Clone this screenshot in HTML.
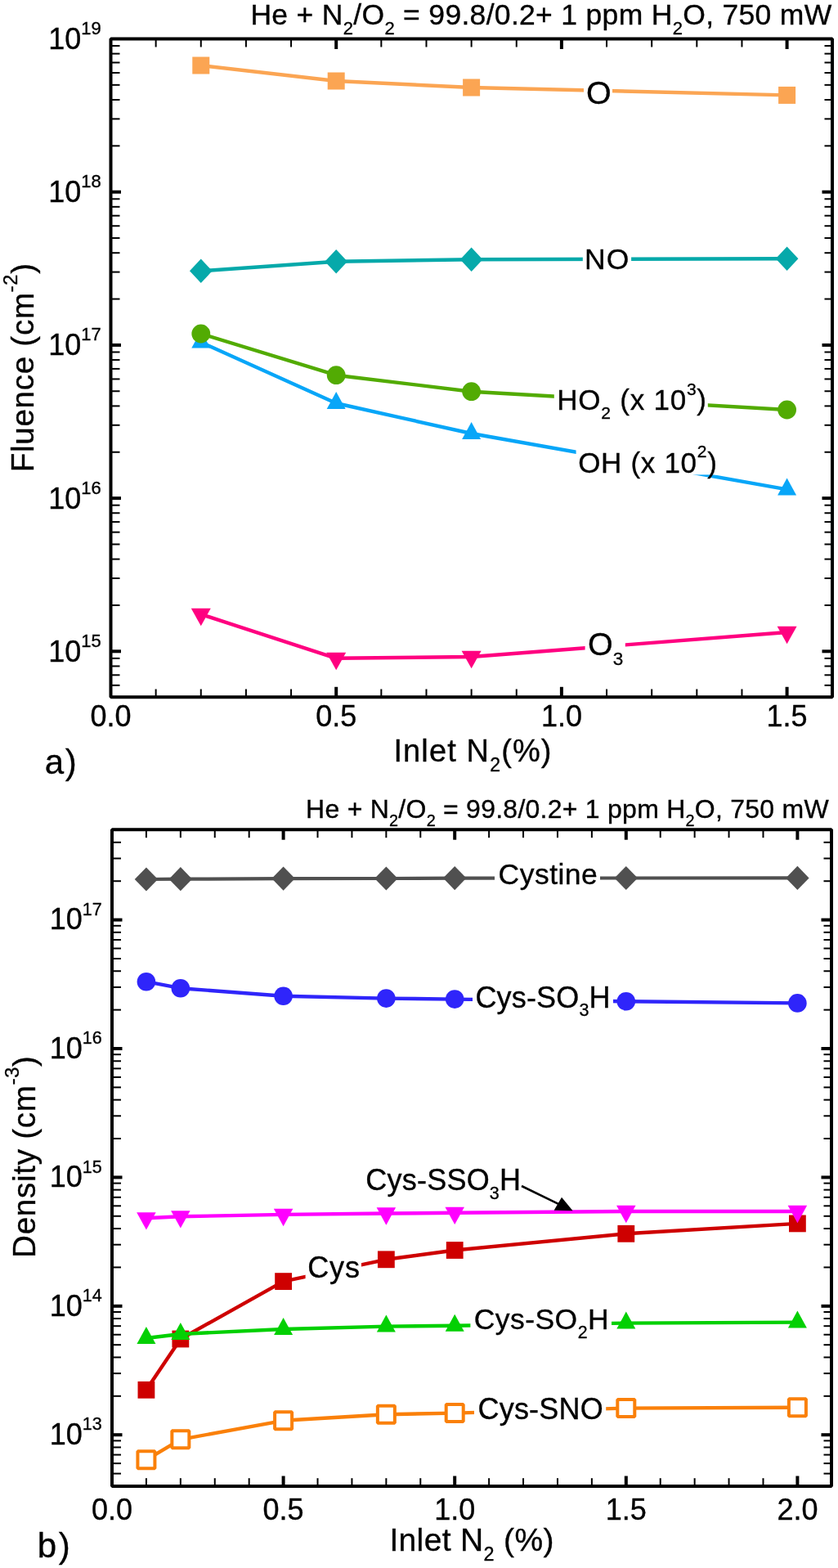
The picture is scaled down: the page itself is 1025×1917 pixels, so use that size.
<!DOCTYPE html>
<html><head><meta charset="utf-8"><title>Fluence and density vs inlet N2</title>
<style>
html,body{margin:0;padding:0;background:#fff;}
body{width:1025px;height:1917px;overflow:hidden;}
svg{display:block;}
text{font-family:"Liberation Sans", Arial, Helvetica, sans-serif;white-space:pre;stroke:#000;stroke-width:0.35px;}
</style></head>
<body>
<svg width="1025" height="1917" viewBox="0 0 1025 1917">
<rect x="0" y="0" width="1025" height="1917" fill="#fff"/>
<polyline points="245.78,80 411.2,99 576.62,107 962.6,116.4" fill="none" stroke="#FBA553" stroke-width="4.4" stroke-linejoin="round"/>
<rect x="235.28" y="69.5" width="21" height="21" fill="#FBA553"/>
<rect x="400.7" y="88.5" width="21" height="21" fill="#FBA553"/>
<rect x="566.12" y="96.5" width="21" height="21" fill="#FBA553"/>
<rect x="952.1" y="105.9" width="21" height="21" fill="#FBA553"/>
<polyline points="245.78,331.3 411.2,319.7 576.62,317.3 962.6,316.2" fill="none" stroke="#06A9AA" stroke-width="4.4" stroke-linejoin="round"/>
<polygon points="245.78,316.5 259.58,331.3 245.78,346.1 231.98,331.3" fill="#06A9AA"/>
<polygon points="411.2,304.9 425,319.7 411.2,334.5 397.4,319.7" fill="#06A9AA"/>
<polygon points="576.62,302.5 590.42,317.3 576.62,332.1 562.82,317.3" fill="#06A9AA"/>
<polygon points="962.6,301.4 976.4,316.2 962.6,331 948.8,316.2" fill="#06A9AA"/>
<polyline points="245.78,418.4 411.2,493 576.62,530 962.6,598.4" fill="none" stroke="#08A6F8" stroke-width="4.4" stroke-linejoin="round"/>
<polygon points="245.78,404.4 257.28,425.4 234.28,425.4" fill="#08A6F8"/>
<polygon points="411.2,479 422.7,500 399.7,500" fill="#08A6F8"/>
<polygon points="576.62,516 588.12,537 565.12,537" fill="#08A6F8"/>
<polygon points="962.6,584.4 974.1,605.4 951.1,605.4" fill="#08A6F8"/>
<polyline points="245.78,408 411.2,458.7 576.62,478.7 962.6,501" fill="none" stroke="#52AB03" stroke-width="4.4" stroke-linejoin="round"/>
<circle cx="245.78" cy="408" r="11.4" fill="#52AB03"/>
<circle cx="411.2" cy="458.7" r="11.4" fill="#52AB03"/>
<circle cx="576.62" cy="478.7" r="11.4" fill="#52AB03"/>
<circle cx="962.6" cy="501" r="11.4" fill="#52AB03"/>
<polyline points="245.78,751 411.2,804.8 576.62,803 962.6,773" fill="none" stroke="#FF0080" stroke-width="4.4" stroke-linejoin="round"/>
<polygon points="245.78,765.33 257.78,743.83 233.78,743.83" fill="#FF0080"/>
<polygon points="411.2,819.13 423.2,797.63 399.2,797.63" fill="#FF0080"/>
<polygon points="576.62,817.33 588.62,795.83 564.62,795.83" fill="#FF0080"/>
<polygon points="962.6,787.33 974.6,765.83 950.6,765.83" fill="#FF0080"/>
<rect x="714" y="94" width="35" height="38" fill="#fff"/>
<text x="717" y="127" text-anchor="start" fill="#000"><tspan font-size="39.5">O</tspan></text>
<rect x="712.8" y="298" width="59.3" height="36" fill="#fff"/>
<text x="714.9" y="328.8" text-anchor="start" fill="#000" letter-spacing="1.3"><tspan font-size="35.5">NO</tspan></text>
<rect x="677.8" y="466" width="188" height="48" fill="#fff"/>
<text x="681.3" y="501" text-anchor="start" fill="#000" letter-spacing="0.76"><tspan font-size="35">HO</tspan><tspan font-size="21" dy="10.5">2</tspan><tspan font-size="35" dy="-10.5"> (x 10</tspan><tspan font-size="21" dy="-18.3">3</tspan><tspan font-size="35" dy="18.3">)</tspan></text>
<rect x="704.6" y="538" width="176" height="42.4" fill="#fff"/>
<text x="707.2" y="578" text-anchor="start" fill="#000" letter-spacing="0.69"><tspan font-size="35">OH (x 10</tspan><tspan font-size="21" dy="-19">2</tspan><tspan font-size="35" dy="19">)</tspan></text>
<rect x="715.6" y="766" width="49.2" height="50" fill="#fff"/>
<text x="719.1" y="800.8" text-anchor="start" fill="#000"><tspan font-size="39.5">O</tspan><tspan font-size="22.5" dy="12">3</tspan></text>
<line x1="190.64" y1="852.3" x2="190.64" y2="842.5" stroke="#000" stroke-width="2" stroke-linecap="butt"/>
<line x1="190.64" y1="47.5" x2="190.64" y2="57.5" stroke="#000" stroke-width="2" stroke-linecap="butt"/>
<line x1="245.78" y1="852.3" x2="245.78" y2="842.5" stroke="#000" stroke-width="2" stroke-linecap="butt"/>
<line x1="245.78" y1="47.5" x2="245.78" y2="57.5" stroke="#000" stroke-width="2" stroke-linecap="butt"/>
<line x1="300.92" y1="852.3" x2="300.92" y2="842.5" stroke="#000" stroke-width="2" stroke-linecap="butt"/>
<line x1="300.92" y1="47.5" x2="300.92" y2="57.5" stroke="#000" stroke-width="2" stroke-linecap="butt"/>
<line x1="356.06" y1="852.3" x2="356.06" y2="842.5" stroke="#000" stroke-width="2" stroke-linecap="butt"/>
<line x1="356.06" y1="47.5" x2="356.06" y2="57.5" stroke="#000" stroke-width="2" stroke-linecap="butt"/>
<line x1="466.34" y1="852.3" x2="466.34" y2="842.5" stroke="#000" stroke-width="2" stroke-linecap="butt"/>
<line x1="466.34" y1="47.5" x2="466.34" y2="57.5" stroke="#000" stroke-width="2" stroke-linecap="butt"/>
<line x1="521.48" y1="852.3" x2="521.48" y2="842.5" stroke="#000" stroke-width="2" stroke-linecap="butt"/>
<line x1="521.48" y1="47.5" x2="521.48" y2="57.5" stroke="#000" stroke-width="2" stroke-linecap="butt"/>
<line x1="576.62" y1="852.3" x2="576.62" y2="842.5" stroke="#000" stroke-width="2" stroke-linecap="butt"/>
<line x1="576.62" y1="47.5" x2="576.62" y2="57.5" stroke="#000" stroke-width="2" stroke-linecap="butt"/>
<line x1="631.76" y1="852.3" x2="631.76" y2="842.5" stroke="#000" stroke-width="2" stroke-linecap="butt"/>
<line x1="631.76" y1="47.5" x2="631.76" y2="57.5" stroke="#000" stroke-width="2" stroke-linecap="butt"/>
<line x1="742.04" y1="852.3" x2="742.04" y2="842.5" stroke="#000" stroke-width="2" stroke-linecap="butt"/>
<line x1="742.04" y1="47.5" x2="742.04" y2="57.5" stroke="#000" stroke-width="2" stroke-linecap="butt"/>
<line x1="797.18" y1="852.3" x2="797.18" y2="842.5" stroke="#000" stroke-width="2" stroke-linecap="butt"/>
<line x1="797.18" y1="47.5" x2="797.18" y2="57.5" stroke="#000" stroke-width="2" stroke-linecap="butt"/>
<line x1="852.32" y1="852.3" x2="852.32" y2="842.5" stroke="#000" stroke-width="2" stroke-linecap="butt"/>
<line x1="852.32" y1="47.5" x2="852.32" y2="57.5" stroke="#000" stroke-width="2" stroke-linecap="butt"/>
<line x1="907.46" y1="852.3" x2="907.46" y2="842.5" stroke="#000" stroke-width="2" stroke-linecap="butt"/>
<line x1="907.46" y1="47.5" x2="907.46" y2="57.5" stroke="#000" stroke-width="2" stroke-linecap="butt"/>
<line x1="1017.74" y1="852.3" x2="1017.74" y2="842.5" stroke="#000" stroke-width="2" stroke-linecap="butt"/>
<line x1="1017.74" y1="47.5" x2="1017.74" y2="57.5" stroke="#000" stroke-width="2" stroke-linecap="butt"/>
<line x1="411.2" y1="852.3" x2="411.2" y2="839.8" stroke="#000" stroke-width="4" stroke-linecap="butt"/>
<line x1="411.2" y1="47.5" x2="411.2" y2="60" stroke="#000" stroke-width="4" stroke-linecap="butt"/>
<line x1="686.9" y1="852.3" x2="686.9" y2="839.8" stroke="#000" stroke-width="4" stroke-linecap="butt"/>
<line x1="686.9" y1="47.5" x2="686.9" y2="60" stroke="#000" stroke-width="4" stroke-linecap="butt"/>
<line x1="962.6" y1="852.3" x2="962.6" y2="839.8" stroke="#000" stroke-width="4" stroke-linecap="butt"/>
<line x1="962.6" y1="47.5" x2="962.6" y2="60" stroke="#000" stroke-width="4" stroke-linecap="butt"/>
<line x1="135.5" y1="837.83" x2="146.5" y2="837.83" stroke="#000" stroke-width="2" stroke-linecap="butt"/>
<line x1="1018" y1="837.83" x2="1008.5" y2="837.83" stroke="#000" stroke-width="2" stroke-linecap="butt"/>
<line x1="135.5" y1="825.3" x2="146.5" y2="825.3" stroke="#000" stroke-width="2" stroke-linecap="butt"/>
<line x1="1018" y1="825.3" x2="1008.5" y2="825.3" stroke="#000" stroke-width="2" stroke-linecap="butt"/>
<line x1="135.5" y1="814.44" x2="146.5" y2="814.44" stroke="#000" stroke-width="2" stroke-linecap="butt"/>
<line x1="1018" y1="814.44" x2="1008.5" y2="814.44" stroke="#000" stroke-width="2" stroke-linecap="butt"/>
<line x1="135.5" y1="804.87" x2="146.5" y2="804.87" stroke="#000" stroke-width="2" stroke-linecap="butt"/>
<line x1="1018" y1="804.87" x2="1008.5" y2="804.87" stroke="#000" stroke-width="2" stroke-linecap="butt"/>
<line x1="135.5" y1="739.95" x2="146.5" y2="739.95" stroke="#000" stroke-width="2" stroke-linecap="butt"/>
<line x1="1018" y1="739.95" x2="1008.5" y2="739.95" stroke="#000" stroke-width="2" stroke-linecap="butt"/>
<line x1="135.5" y1="706.98" x2="146.5" y2="706.98" stroke="#000" stroke-width="2" stroke-linecap="butt"/>
<line x1="1018" y1="706.98" x2="1008.5" y2="706.98" stroke="#000" stroke-width="2" stroke-linecap="butt"/>
<line x1="135.5" y1="683.59" x2="146.5" y2="683.59" stroke="#000" stroke-width="2" stroke-linecap="butt"/>
<line x1="1018" y1="683.59" x2="1008.5" y2="683.59" stroke="#000" stroke-width="2" stroke-linecap="butt"/>
<line x1="135.5" y1="665.45" x2="146.5" y2="665.45" stroke="#000" stroke-width="2" stroke-linecap="butt"/>
<line x1="1018" y1="665.45" x2="1008.5" y2="665.45" stroke="#000" stroke-width="2" stroke-linecap="butt"/>
<line x1="135.5" y1="650.63" x2="146.5" y2="650.63" stroke="#000" stroke-width="2" stroke-linecap="butt"/>
<line x1="1018" y1="650.63" x2="1008.5" y2="650.63" stroke="#000" stroke-width="2" stroke-linecap="butt"/>
<line x1="135.5" y1="638.1" x2="146.5" y2="638.1" stroke="#000" stroke-width="2" stroke-linecap="butt"/>
<line x1="1018" y1="638.1" x2="1008.5" y2="638.1" stroke="#000" stroke-width="2" stroke-linecap="butt"/>
<line x1="135.5" y1="627.24" x2="146.5" y2="627.24" stroke="#000" stroke-width="2" stroke-linecap="butt"/>
<line x1="1018" y1="627.24" x2="1008.5" y2="627.24" stroke="#000" stroke-width="2" stroke-linecap="butt"/>
<line x1="135.5" y1="617.67" x2="146.5" y2="617.67" stroke="#000" stroke-width="2" stroke-linecap="butt"/>
<line x1="1018" y1="617.67" x2="1008.5" y2="617.67" stroke="#000" stroke-width="2" stroke-linecap="butt"/>
<line x1="135.5" y1="552.75" x2="146.5" y2="552.75" stroke="#000" stroke-width="2" stroke-linecap="butt"/>
<line x1="1018" y1="552.75" x2="1008.5" y2="552.75" stroke="#000" stroke-width="2" stroke-linecap="butt"/>
<line x1="135.5" y1="519.78" x2="146.5" y2="519.78" stroke="#000" stroke-width="2" stroke-linecap="butt"/>
<line x1="1018" y1="519.78" x2="1008.5" y2="519.78" stroke="#000" stroke-width="2" stroke-linecap="butt"/>
<line x1="135.5" y1="496.39" x2="146.5" y2="496.39" stroke="#000" stroke-width="2" stroke-linecap="butt"/>
<line x1="1018" y1="496.39" x2="1008.5" y2="496.39" stroke="#000" stroke-width="2" stroke-linecap="butt"/>
<line x1="135.5" y1="478.25" x2="146.5" y2="478.25" stroke="#000" stroke-width="2" stroke-linecap="butt"/>
<line x1="1018" y1="478.25" x2="1008.5" y2="478.25" stroke="#000" stroke-width="2" stroke-linecap="butt"/>
<line x1="135.5" y1="463.43" x2="146.5" y2="463.43" stroke="#000" stroke-width="2" stroke-linecap="butt"/>
<line x1="1018" y1="463.43" x2="1008.5" y2="463.43" stroke="#000" stroke-width="2" stroke-linecap="butt"/>
<line x1="135.5" y1="450.9" x2="146.5" y2="450.9" stroke="#000" stroke-width="2" stroke-linecap="butt"/>
<line x1="1018" y1="450.9" x2="1008.5" y2="450.9" stroke="#000" stroke-width="2" stroke-linecap="butt"/>
<line x1="135.5" y1="440.04" x2="146.5" y2="440.04" stroke="#000" stroke-width="2" stroke-linecap="butt"/>
<line x1="1018" y1="440.04" x2="1008.5" y2="440.04" stroke="#000" stroke-width="2" stroke-linecap="butt"/>
<line x1="135.5" y1="430.47" x2="146.5" y2="430.47" stroke="#000" stroke-width="2" stroke-linecap="butt"/>
<line x1="1018" y1="430.47" x2="1008.5" y2="430.47" stroke="#000" stroke-width="2" stroke-linecap="butt"/>
<line x1="135.5" y1="365.55" x2="146.5" y2="365.55" stroke="#000" stroke-width="2" stroke-linecap="butt"/>
<line x1="1018" y1="365.55" x2="1008.5" y2="365.55" stroke="#000" stroke-width="2" stroke-linecap="butt"/>
<line x1="135.5" y1="332.58" x2="146.5" y2="332.58" stroke="#000" stroke-width="2" stroke-linecap="butt"/>
<line x1="1018" y1="332.58" x2="1008.5" y2="332.58" stroke="#000" stroke-width="2" stroke-linecap="butt"/>
<line x1="135.5" y1="309.19" x2="146.5" y2="309.19" stroke="#000" stroke-width="2" stroke-linecap="butt"/>
<line x1="1018" y1="309.19" x2="1008.5" y2="309.19" stroke="#000" stroke-width="2" stroke-linecap="butt"/>
<line x1="135.5" y1="291.05" x2="146.5" y2="291.05" stroke="#000" stroke-width="2" stroke-linecap="butt"/>
<line x1="1018" y1="291.05" x2="1008.5" y2="291.05" stroke="#000" stroke-width="2" stroke-linecap="butt"/>
<line x1="135.5" y1="276.23" x2="146.5" y2="276.23" stroke="#000" stroke-width="2" stroke-linecap="butt"/>
<line x1="1018" y1="276.23" x2="1008.5" y2="276.23" stroke="#000" stroke-width="2" stroke-linecap="butt"/>
<line x1="135.5" y1="263.7" x2="146.5" y2="263.7" stroke="#000" stroke-width="2" stroke-linecap="butt"/>
<line x1="1018" y1="263.7" x2="1008.5" y2="263.7" stroke="#000" stroke-width="2" stroke-linecap="butt"/>
<line x1="135.5" y1="252.84" x2="146.5" y2="252.84" stroke="#000" stroke-width="2" stroke-linecap="butt"/>
<line x1="1018" y1="252.84" x2="1008.5" y2="252.84" stroke="#000" stroke-width="2" stroke-linecap="butt"/>
<line x1="135.5" y1="243.27" x2="146.5" y2="243.27" stroke="#000" stroke-width="2" stroke-linecap="butt"/>
<line x1="1018" y1="243.27" x2="1008.5" y2="243.27" stroke="#000" stroke-width="2" stroke-linecap="butt"/>
<line x1="135.5" y1="178.35" x2="146.5" y2="178.35" stroke="#000" stroke-width="2" stroke-linecap="butt"/>
<line x1="1018" y1="178.35" x2="1008.5" y2="178.35" stroke="#000" stroke-width="2" stroke-linecap="butt"/>
<line x1="135.5" y1="145.38" x2="146.5" y2="145.38" stroke="#000" stroke-width="2" stroke-linecap="butt"/>
<line x1="1018" y1="145.38" x2="1008.5" y2="145.38" stroke="#000" stroke-width="2" stroke-linecap="butt"/>
<line x1="135.5" y1="121.99" x2="146.5" y2="121.99" stroke="#000" stroke-width="2" stroke-linecap="butt"/>
<line x1="1018" y1="121.99" x2="1008.5" y2="121.99" stroke="#000" stroke-width="2" stroke-linecap="butt"/>
<line x1="135.5" y1="103.85" x2="146.5" y2="103.85" stroke="#000" stroke-width="2" stroke-linecap="butt"/>
<line x1="1018" y1="103.85" x2="1008.5" y2="103.85" stroke="#000" stroke-width="2" stroke-linecap="butt"/>
<line x1="135.5" y1="89.03" x2="146.5" y2="89.03" stroke="#000" stroke-width="2" stroke-linecap="butt"/>
<line x1="1018" y1="89.03" x2="1008.5" y2="89.03" stroke="#000" stroke-width="2" stroke-linecap="butt"/>
<line x1="135.5" y1="76.5" x2="146.5" y2="76.5" stroke="#000" stroke-width="2" stroke-linecap="butt"/>
<line x1="1018" y1="76.5" x2="1008.5" y2="76.5" stroke="#000" stroke-width="2" stroke-linecap="butt"/>
<line x1="135.5" y1="65.64" x2="146.5" y2="65.64" stroke="#000" stroke-width="2" stroke-linecap="butt"/>
<line x1="1018" y1="65.64" x2="1008.5" y2="65.64" stroke="#000" stroke-width="2" stroke-linecap="butt"/>
<line x1="135.5" y1="56.07" x2="146.5" y2="56.07" stroke="#000" stroke-width="2" stroke-linecap="butt"/>
<line x1="1018" y1="56.07" x2="1008.5" y2="56.07" stroke="#000" stroke-width="2" stroke-linecap="butt"/>
<line x1="135.5" y1="796.3" x2="148" y2="796.3" stroke="#000" stroke-width="4" stroke-linecap="butt"/>
<line x1="1018" y1="796.3" x2="1005.5" y2="796.3" stroke="#000" stroke-width="4" stroke-linecap="butt"/>
<line x1="135.5" y1="609.1" x2="148" y2="609.1" stroke="#000" stroke-width="4" stroke-linecap="butt"/>
<line x1="1018" y1="609.1" x2="1005.5" y2="609.1" stroke="#000" stroke-width="4" stroke-linecap="butt"/>
<line x1="135.5" y1="421.9" x2="148" y2="421.9" stroke="#000" stroke-width="4" stroke-linecap="butt"/>
<line x1="1018" y1="421.9" x2="1005.5" y2="421.9" stroke="#000" stroke-width="4" stroke-linecap="butt"/>
<line x1="135.5" y1="234.7" x2="148" y2="234.7" stroke="#000" stroke-width="4" stroke-linecap="butt"/>
<line x1="1018" y1="234.7" x2="1005.5" y2="234.7" stroke="#000" stroke-width="4" stroke-linecap="butt"/>
<rect x="135.5" y="47.5" width="882.5" height="804.8" fill="none" stroke="#000" stroke-width="4" stroke-linejoin="bevel"/>
<text x="135.5" y="887.5" text-anchor="middle" fill="#000"><tspan font-size="36">0.0</tspan></text>
<text x="411.2" y="887.5" text-anchor="middle" fill="#000"><tspan font-size="36">0.5</tspan></text>
<text x="686.9" y="887.5" text-anchor="middle" fill="#000"><tspan font-size="36">1.0</tspan></text>
<text x="962.6" y="887.5" text-anchor="middle" fill="#000"><tspan font-size="36">1.5</tspan></text>
<text x="123.8" y="808.7" text-anchor="end" fill="#000"><tspan font-size="36">10</tspan><tspan font-size="22" dy="-18">15</tspan></text>
<text x="123.8" y="621.5" text-anchor="end" fill="#000"><tspan font-size="36">10</tspan><tspan font-size="22" dy="-18">16</tspan></text>
<text x="123.8" y="434.3" text-anchor="end" fill="#000"><tspan font-size="36">10</tspan><tspan font-size="22" dy="-18">17</tspan></text>
<text x="123.8" y="247.1" text-anchor="end" fill="#000"><tspan font-size="36">10</tspan><tspan font-size="22" dy="-18">18</tspan></text>
<text x="123.8" y="59.9" text-anchor="end" fill="#000"><tspan font-size="36">10</tspan><tspan font-size="22" dy="-18">19</tspan></text>
<text x="306.4" y="30.2" text-anchor="start" fill="#000" letter-spacing="0.31"><tspan font-size="35.5">He + N</tspan><tspan font-size="22" dy="11.3">2</tspan><tspan font-size="35.5" dy="-11.3">/O</tspan><tspan font-size="22" dy="11.3">2</tspan><tspan font-size="35.5" dy="-11.3"> = 99.8/0.2+ 1 ppm H</tspan><tspan font-size="22" dy="11.3">2</tspan><tspan font-size="35.5" dy="-11.3">O, 750 mW</tspan></text>
<text x="0" y="0" transform="translate(41,449.3) rotate(-90)" text-anchor="middle" fill="#000" letter-spacing="0.75"><tspan font-size="38.5">Fluence (cm</tspan><tspan font-size="23.5" dy="-20">-2</tspan><tspan font-size="38.5" dy="20">)</tspan></text>
<text x="481.4" y="931" text-anchor="start" fill="#000" letter-spacing="1.14"><tspan font-size="38">Inlet N</tspan><tspan font-size="23" dy="12.3">2</tspan><tspan font-size="38" dy="-12.3">(%)</tspan></text>
<text x="54.7" y="946" text-anchor="start" fill="#000" letter-spacing="1.6"><tspan font-size="42">a)</tspan></text>
<polyline points="178.92,1075 220.84,1074.7 346.6,1074.1 472.36,1074 556.2,1073.6 765.8,1073.5 975.4,1073.4" fill="none" stroke="#505050" stroke-width="4.2" stroke-linejoin="round"/>
<polygon points="178.92,1060.4 193.12,1075 178.92,1089.6 164.72,1075" fill="#505050"/>
<polygon points="220.84,1060.1 235.04,1074.7 220.84,1089.3 206.64,1074.7" fill="#505050"/>
<polygon points="346.6,1059.5 360.8,1074.1 346.6,1088.7 332.4,1074.1" fill="#505050"/>
<polygon points="472.36,1059.4 486.56,1074 472.36,1088.6 458.16,1074" fill="#505050"/>
<polygon points="556.2,1059 570.4,1073.6 556.2,1088.2 542,1073.6" fill="#505050"/>
<polygon points="765.8,1058.9 780,1073.5 765.8,1088.1 751.6,1073.5" fill="#505050"/>
<polygon points="975.4,1058.8 989.6,1073.4 975.4,1088 961.2,1073.4" fill="#505050"/>
<polyline points="178.92,1200.2 220.84,1208.2 346.6,1217.8 472.36,1220.6 556.2,1221.6 765.8,1224.2 975.4,1226.4" fill="none" stroke="#2F25FA" stroke-width="4.4" stroke-linejoin="round"/>
<circle cx="178.92" cy="1200.2" r="11.3" fill="#2F25FA"/>
<circle cx="220.84" cy="1208.2" r="11.3" fill="#2F25FA"/>
<circle cx="346.6" cy="1217.8" r="11.3" fill="#2F25FA"/>
<circle cx="472.36" cy="1220.6" r="11.3" fill="#2F25FA"/>
<circle cx="556.2" cy="1221.6" r="11.3" fill="#2F25FA"/>
<circle cx="765.8" cy="1224.2" r="11.3" fill="#2F25FA"/>
<circle cx="975.4" cy="1226.4" r="11.3" fill="#2F25FA"/>
<polyline points="178.92,1699.3 220.84,1637 346.6,1566.6 472.36,1539.8 556.2,1528.5 765.8,1508.3 975.4,1495.9" fill="none" stroke="#CE0000" stroke-width="4.4" stroke-linejoin="round"/>
<rect x="168.52" y="1688.9" width="20.8" height="20.8" fill="#CE0000"/>
<rect x="210.44" y="1626.6" width="20.8" height="20.8" fill="#CE0000"/>
<rect x="336.2" y="1556.2" width="20.8" height="20.8" fill="#CE0000"/>
<rect x="461.96" y="1529.4" width="20.8" height="20.8" fill="#CE0000"/>
<rect x="545.8" y="1518.1" width="20.8" height="20.8" fill="#CE0000"/>
<rect x="755.4" y="1497.9" width="20.8" height="20.8" fill="#CE0000"/>
<rect x="965" y="1485.5" width="20.8" height="20.8" fill="#CE0000"/>
<polyline points="178.92,1636 220.84,1631 346.6,1625 472.36,1621.6 556.2,1620.8 765.8,1617.6 975.4,1616.6" fill="none" stroke="#03D003" stroke-width="4.4" stroke-linejoin="round"/>
<polygon points="178.92,1622 190.42,1643 167.42,1643" fill="#03D003"/>
<polygon points="220.84,1617 232.34,1638 209.34,1638" fill="#03D003"/>
<polygon points="346.6,1611 358.1,1632 335.1,1632" fill="#03D003"/>
<polygon points="472.36,1607.6 483.86,1628.6 460.86,1628.6" fill="#03D003"/>
<polygon points="556.2,1606.8 567.7,1627.8 544.7,1627.8" fill="#03D003"/>
<polygon points="765.8,1603.6 777.3,1624.6 754.3,1624.6" fill="#03D003"/>
<polygon points="975.4,1602.6 986.9,1623.6 963.9,1623.6" fill="#03D003"/>
<polyline points="178.92,1489.3 220.84,1487.3 346.6,1484.9 472.36,1483.5 556.2,1482.8 765.8,1481 975.4,1481" fill="none" stroke="#FF00FF" stroke-width="4.4" stroke-linejoin="round"/>
<polygon points="178.92,1503.57 190.67,1482.17 167.17,1482.17" fill="#FF00FF"/>
<polygon points="220.84,1501.57 232.59,1480.17 209.09,1480.17" fill="#FF00FF"/>
<polygon points="346.6,1499.17 358.35,1477.77 334.85,1477.77" fill="#FF00FF"/>
<polygon points="472.36,1497.77 484.11,1476.37 460.61,1476.37" fill="#FF00FF"/>
<polygon points="556.2,1497.07 567.95,1475.67 544.45,1475.67" fill="#FF00FF"/>
<polygon points="765.8,1495.27 777.55,1473.87 754.05,1473.87" fill="#FF00FF"/>
<polygon points="975.4,1495.27 987.15,1473.87 963.65,1473.87" fill="#FF00FF"/>
<polyline points="178.92,1784.8 220.84,1759.8 346.6,1736.8 472.36,1729.2 556.2,1727.6 765.8,1721.6 975.4,1720.8" fill="none" stroke="#FA800A" stroke-width="4.4" stroke-linejoin="round"/>
<rect x="168.42" y="1774.3" width="21" height="21" fill="#fff" stroke="#FA800A" stroke-width="4" stroke-linejoin="bevel"/>
<rect x="210.34" y="1749.3" width="21" height="21" fill="#fff" stroke="#FA800A" stroke-width="4" stroke-linejoin="bevel"/>
<rect x="336.1" y="1726.3" width="21" height="21" fill="#fff" stroke="#FA800A" stroke-width="4" stroke-linejoin="bevel"/>
<rect x="461.86" y="1718.7" width="21" height="21" fill="#fff" stroke="#FA800A" stroke-width="4" stroke-linejoin="bevel"/>
<rect x="545.7" y="1717.1" width="21" height="21" fill="#fff" stroke="#FA800A" stroke-width="4" stroke-linejoin="bevel"/>
<rect x="755.3" y="1711.1" width="21" height="21" fill="#fff" stroke="#FA800A" stroke-width="4" stroke-linejoin="bevel"/>
<rect x="964.9" y="1710.3" width="21" height="21" fill="#fff" stroke="#FA800A" stroke-width="4" stroke-linejoin="bevel"/>
<line x1="638" y1="1450" x2="684" y2="1472.3" stroke="#000" stroke-width="2.6" stroke-linecap="butt"/>
<polygon points="700.6,1480.2 687,1463.8 677.6,1479.8" fill="#000"/>
<rect x="605" y="1050" width="129" height="42" fill="#fff"/>
<text x="609.6" y="1081" text-anchor="start" fill="#000" letter-spacing="0.47"><tspan font-size="35.5">Cystine</tspan></text>
<rect x="578" y="1198" width="172" height="48" fill="#fff"/>
<text x="581.4" y="1231.6" text-anchor="start" fill="#000" letter-spacing="0.17"><tspan font-size="36">Cys-SO</tspan><tspan font-size="21.5" dy="10.5">3</tspan><tspan font-size="36" dy="-10.5">H</tspan></text>
<text x="447.3" y="1455.3" text-anchor="start" fill="#000" letter-spacing="0.22"><tspan font-size="36">Cys-SSO</tspan><tspan font-size="21.5" dy="10.5">3</tspan><tspan font-size="36" dy="-10.5">H</tspan></text>
<rect x="373.6" y="1530" width="68.4" height="45" fill="#fff"/>
<text x="376.2" y="1562" text-anchor="start" fill="#000" letter-spacing="0.9"><tspan font-size="36">Cys</tspan></text>
<rect x="575.4" y="1594" width="172.6" height="48" fill="#fff"/>
<text x="579.7" y="1625.4" text-anchor="start" fill="#000" letter-spacing="0.46"><tspan font-size="35.5">Cys-SO</tspan><tspan font-size="21.3" dy="10.5">2</tspan><tspan font-size="35.5" dy="-10.5">H</tspan></text>
<rect x="580" y="1703" width="161.2" height="44" fill="#fff"/>
<text x="584.5" y="1734.7" text-anchor="start" fill="#000" letter-spacing="0.2"><tspan font-size="36">Cys-SNO</tspan></text>
<line x1="178.92" y1="1817" x2="178.92" y2="1807.2" stroke="#000" stroke-width="2" stroke-linecap="butt"/>
<line x1="178.92" y1="1014.2" x2="178.92" y2="1024.2" stroke="#000" stroke-width="2" stroke-linecap="butt"/>
<line x1="220.84" y1="1817" x2="220.84" y2="1807.2" stroke="#000" stroke-width="2" stroke-linecap="butt"/>
<line x1="220.84" y1="1014.2" x2="220.84" y2="1024.2" stroke="#000" stroke-width="2" stroke-linecap="butt"/>
<line x1="262.76" y1="1817" x2="262.76" y2="1807.2" stroke="#000" stroke-width="2" stroke-linecap="butt"/>
<line x1="262.76" y1="1014.2" x2="262.76" y2="1024.2" stroke="#000" stroke-width="2" stroke-linecap="butt"/>
<line x1="304.68" y1="1817" x2="304.68" y2="1807.2" stroke="#000" stroke-width="2" stroke-linecap="butt"/>
<line x1="304.68" y1="1014.2" x2="304.68" y2="1024.2" stroke="#000" stroke-width="2" stroke-linecap="butt"/>
<line x1="388.52" y1="1817" x2="388.52" y2="1807.2" stroke="#000" stroke-width="2" stroke-linecap="butt"/>
<line x1="388.52" y1="1014.2" x2="388.52" y2="1024.2" stroke="#000" stroke-width="2" stroke-linecap="butt"/>
<line x1="430.44" y1="1817" x2="430.44" y2="1807.2" stroke="#000" stroke-width="2" stroke-linecap="butt"/>
<line x1="430.44" y1="1014.2" x2="430.44" y2="1024.2" stroke="#000" stroke-width="2" stroke-linecap="butt"/>
<line x1="472.36" y1="1817" x2="472.36" y2="1807.2" stroke="#000" stroke-width="2" stroke-linecap="butt"/>
<line x1="472.36" y1="1014.2" x2="472.36" y2="1024.2" stroke="#000" stroke-width="2" stroke-linecap="butt"/>
<line x1="514.28" y1="1817" x2="514.28" y2="1807.2" stroke="#000" stroke-width="2" stroke-linecap="butt"/>
<line x1="514.28" y1="1014.2" x2="514.28" y2="1024.2" stroke="#000" stroke-width="2" stroke-linecap="butt"/>
<line x1="598.12" y1="1817" x2="598.12" y2="1807.2" stroke="#000" stroke-width="2" stroke-linecap="butt"/>
<line x1="598.12" y1="1014.2" x2="598.12" y2="1024.2" stroke="#000" stroke-width="2" stroke-linecap="butt"/>
<line x1="640.04" y1="1817" x2="640.04" y2="1807.2" stroke="#000" stroke-width="2" stroke-linecap="butt"/>
<line x1="640.04" y1="1014.2" x2="640.04" y2="1024.2" stroke="#000" stroke-width="2" stroke-linecap="butt"/>
<line x1="681.96" y1="1817" x2="681.96" y2="1807.2" stroke="#000" stroke-width="2" stroke-linecap="butt"/>
<line x1="681.96" y1="1014.2" x2="681.96" y2="1024.2" stroke="#000" stroke-width="2" stroke-linecap="butt"/>
<line x1="723.88" y1="1817" x2="723.88" y2="1807.2" stroke="#000" stroke-width="2" stroke-linecap="butt"/>
<line x1="723.88" y1="1014.2" x2="723.88" y2="1024.2" stroke="#000" stroke-width="2" stroke-linecap="butt"/>
<line x1="807.72" y1="1817" x2="807.72" y2="1807.2" stroke="#000" stroke-width="2" stroke-linecap="butt"/>
<line x1="807.72" y1="1014.2" x2="807.72" y2="1024.2" stroke="#000" stroke-width="2" stroke-linecap="butt"/>
<line x1="849.64" y1="1817" x2="849.64" y2="1807.2" stroke="#000" stroke-width="2" stroke-linecap="butt"/>
<line x1="849.64" y1="1014.2" x2="849.64" y2="1024.2" stroke="#000" stroke-width="2" stroke-linecap="butt"/>
<line x1="891.56" y1="1817" x2="891.56" y2="1807.2" stroke="#000" stroke-width="2" stroke-linecap="butt"/>
<line x1="891.56" y1="1014.2" x2="891.56" y2="1024.2" stroke="#000" stroke-width="2" stroke-linecap="butt"/>
<line x1="933.48" y1="1817" x2="933.48" y2="1807.2" stroke="#000" stroke-width="2" stroke-linecap="butt"/>
<line x1="933.48" y1="1014.2" x2="933.48" y2="1024.2" stroke="#000" stroke-width="2" stroke-linecap="butt"/>
<line x1="346.6" y1="1817" x2="346.6" y2="1804.5" stroke="#000" stroke-width="4" stroke-linecap="butt"/>
<line x1="346.6" y1="1014.2" x2="346.6" y2="1026.7" stroke="#000" stroke-width="4" stroke-linecap="butt"/>
<line x1="556.2" y1="1817" x2="556.2" y2="1804.5" stroke="#000" stroke-width="4" stroke-linecap="butt"/>
<line x1="556.2" y1="1014.2" x2="556.2" y2="1026.7" stroke="#000" stroke-width="4" stroke-linecap="butt"/>
<line x1="765.8" y1="1817" x2="765.8" y2="1804.5" stroke="#000" stroke-width="4" stroke-linecap="butt"/>
<line x1="765.8" y1="1014.2" x2="765.8" y2="1026.7" stroke="#000" stroke-width="4" stroke-linecap="butt"/>
<line x1="975.4" y1="1817" x2="975.4" y2="1804.5" stroke="#000" stroke-width="4" stroke-linecap="butt"/>
<line x1="975.4" y1="1014.2" x2="975.4" y2="1026.7" stroke="#000" stroke-width="4" stroke-linecap="butt"/>
<line x1="137" y1="1801.58" x2="148" y2="1801.58" stroke="#000" stroke-width="2" stroke-linecap="butt"/>
<line x1="1017" y1="1801.58" x2="1007.5" y2="1801.58" stroke="#000" stroke-width="2" stroke-linecap="butt"/>
<line x1="137" y1="1789.12" x2="148" y2="1789.12" stroke="#000" stroke-width="2" stroke-linecap="butt"/>
<line x1="1017" y1="1789.12" x2="1007.5" y2="1789.12" stroke="#000" stroke-width="2" stroke-linecap="butt"/>
<line x1="137" y1="1778.58" x2="148" y2="1778.58" stroke="#000" stroke-width="2" stroke-linecap="butt"/>
<line x1="1017" y1="1778.58" x2="1007.5" y2="1778.58" stroke="#000" stroke-width="2" stroke-linecap="butt"/>
<line x1="137" y1="1769.45" x2="148" y2="1769.45" stroke="#000" stroke-width="2" stroke-linecap="butt"/>
<line x1="1017" y1="1769.45" x2="1007.5" y2="1769.45" stroke="#000" stroke-width="2" stroke-linecap="butt"/>
<line x1="137" y1="1761.4" x2="148" y2="1761.4" stroke="#000" stroke-width="2" stroke-linecap="butt"/>
<line x1="1017" y1="1761.4" x2="1007.5" y2="1761.4" stroke="#000" stroke-width="2" stroke-linecap="butt"/>
<line x1="137" y1="1706.82" x2="148" y2="1706.82" stroke="#000" stroke-width="2" stroke-linecap="butt"/>
<line x1="1017" y1="1706.82" x2="1007.5" y2="1706.82" stroke="#000" stroke-width="2" stroke-linecap="butt"/>
<line x1="137" y1="1679.1" x2="148" y2="1679.1" stroke="#000" stroke-width="2" stroke-linecap="butt"/>
<line x1="1017" y1="1679.1" x2="1007.5" y2="1679.1" stroke="#000" stroke-width="2" stroke-linecap="butt"/>
<line x1="137" y1="1659.44" x2="148" y2="1659.44" stroke="#000" stroke-width="2" stroke-linecap="butt"/>
<line x1="1017" y1="1659.44" x2="1007.5" y2="1659.44" stroke="#000" stroke-width="2" stroke-linecap="butt"/>
<line x1="137" y1="1644.18" x2="148" y2="1644.18" stroke="#000" stroke-width="2" stroke-linecap="butt"/>
<line x1="1017" y1="1644.18" x2="1007.5" y2="1644.18" stroke="#000" stroke-width="2" stroke-linecap="butt"/>
<line x1="137" y1="1631.72" x2="148" y2="1631.72" stroke="#000" stroke-width="2" stroke-linecap="butt"/>
<line x1="1017" y1="1631.72" x2="1007.5" y2="1631.72" stroke="#000" stroke-width="2" stroke-linecap="butt"/>
<line x1="137" y1="1621.18" x2="148" y2="1621.18" stroke="#000" stroke-width="2" stroke-linecap="butt"/>
<line x1="1017" y1="1621.18" x2="1007.5" y2="1621.18" stroke="#000" stroke-width="2" stroke-linecap="butt"/>
<line x1="137" y1="1612.05" x2="148" y2="1612.05" stroke="#000" stroke-width="2" stroke-linecap="butt"/>
<line x1="1017" y1="1612.05" x2="1007.5" y2="1612.05" stroke="#000" stroke-width="2" stroke-linecap="butt"/>
<line x1="137" y1="1604" x2="148" y2="1604" stroke="#000" stroke-width="2" stroke-linecap="butt"/>
<line x1="1017" y1="1604" x2="1007.5" y2="1604" stroke="#000" stroke-width="2" stroke-linecap="butt"/>
<line x1="137" y1="1549.42" x2="148" y2="1549.42" stroke="#000" stroke-width="2" stroke-linecap="butt"/>
<line x1="1017" y1="1549.42" x2="1007.5" y2="1549.42" stroke="#000" stroke-width="2" stroke-linecap="butt"/>
<line x1="137" y1="1521.7" x2="148" y2="1521.7" stroke="#000" stroke-width="2" stroke-linecap="butt"/>
<line x1="1017" y1="1521.7" x2="1007.5" y2="1521.7" stroke="#000" stroke-width="2" stroke-linecap="butt"/>
<line x1="137" y1="1502.04" x2="148" y2="1502.04" stroke="#000" stroke-width="2" stroke-linecap="butt"/>
<line x1="1017" y1="1502.04" x2="1007.5" y2="1502.04" stroke="#000" stroke-width="2" stroke-linecap="butt"/>
<line x1="137" y1="1486.78" x2="148" y2="1486.78" stroke="#000" stroke-width="2" stroke-linecap="butt"/>
<line x1="1017" y1="1486.78" x2="1007.5" y2="1486.78" stroke="#000" stroke-width="2" stroke-linecap="butt"/>
<line x1="137" y1="1474.32" x2="148" y2="1474.32" stroke="#000" stroke-width="2" stroke-linecap="butt"/>
<line x1="1017" y1="1474.32" x2="1007.5" y2="1474.32" stroke="#000" stroke-width="2" stroke-linecap="butt"/>
<line x1="137" y1="1463.78" x2="148" y2="1463.78" stroke="#000" stroke-width="2" stroke-linecap="butt"/>
<line x1="1017" y1="1463.78" x2="1007.5" y2="1463.78" stroke="#000" stroke-width="2" stroke-linecap="butt"/>
<line x1="137" y1="1454.65" x2="148" y2="1454.65" stroke="#000" stroke-width="2" stroke-linecap="butt"/>
<line x1="1017" y1="1454.65" x2="1007.5" y2="1454.65" stroke="#000" stroke-width="2" stroke-linecap="butt"/>
<line x1="137" y1="1446.6" x2="148" y2="1446.6" stroke="#000" stroke-width="2" stroke-linecap="butt"/>
<line x1="1017" y1="1446.6" x2="1007.5" y2="1446.6" stroke="#000" stroke-width="2" stroke-linecap="butt"/>
<line x1="137" y1="1392.02" x2="148" y2="1392.02" stroke="#000" stroke-width="2" stroke-linecap="butt"/>
<line x1="1017" y1="1392.02" x2="1007.5" y2="1392.02" stroke="#000" stroke-width="2" stroke-linecap="butt"/>
<line x1="137" y1="1364.3" x2="148" y2="1364.3" stroke="#000" stroke-width="2" stroke-linecap="butt"/>
<line x1="1017" y1="1364.3" x2="1007.5" y2="1364.3" stroke="#000" stroke-width="2" stroke-linecap="butt"/>
<line x1="137" y1="1344.64" x2="148" y2="1344.64" stroke="#000" stroke-width="2" stroke-linecap="butt"/>
<line x1="1017" y1="1344.64" x2="1007.5" y2="1344.64" stroke="#000" stroke-width="2" stroke-linecap="butt"/>
<line x1="137" y1="1329.38" x2="148" y2="1329.38" stroke="#000" stroke-width="2" stroke-linecap="butt"/>
<line x1="1017" y1="1329.38" x2="1007.5" y2="1329.38" stroke="#000" stroke-width="2" stroke-linecap="butt"/>
<line x1="137" y1="1316.92" x2="148" y2="1316.92" stroke="#000" stroke-width="2" stroke-linecap="butt"/>
<line x1="1017" y1="1316.92" x2="1007.5" y2="1316.92" stroke="#000" stroke-width="2" stroke-linecap="butt"/>
<line x1="137" y1="1306.38" x2="148" y2="1306.38" stroke="#000" stroke-width="2" stroke-linecap="butt"/>
<line x1="1017" y1="1306.38" x2="1007.5" y2="1306.38" stroke="#000" stroke-width="2" stroke-linecap="butt"/>
<line x1="137" y1="1297.25" x2="148" y2="1297.25" stroke="#000" stroke-width="2" stroke-linecap="butt"/>
<line x1="1017" y1="1297.25" x2="1007.5" y2="1297.25" stroke="#000" stroke-width="2" stroke-linecap="butt"/>
<line x1="137" y1="1289.2" x2="148" y2="1289.2" stroke="#000" stroke-width="2" stroke-linecap="butt"/>
<line x1="1017" y1="1289.2" x2="1007.5" y2="1289.2" stroke="#000" stroke-width="2" stroke-linecap="butt"/>
<line x1="137" y1="1234.62" x2="148" y2="1234.62" stroke="#000" stroke-width="2" stroke-linecap="butt"/>
<line x1="1017" y1="1234.62" x2="1007.5" y2="1234.62" stroke="#000" stroke-width="2" stroke-linecap="butt"/>
<line x1="137" y1="1206.9" x2="148" y2="1206.9" stroke="#000" stroke-width="2" stroke-linecap="butt"/>
<line x1="1017" y1="1206.9" x2="1007.5" y2="1206.9" stroke="#000" stroke-width="2" stroke-linecap="butt"/>
<line x1="137" y1="1187.24" x2="148" y2="1187.24" stroke="#000" stroke-width="2" stroke-linecap="butt"/>
<line x1="1017" y1="1187.24" x2="1007.5" y2="1187.24" stroke="#000" stroke-width="2" stroke-linecap="butt"/>
<line x1="137" y1="1171.98" x2="148" y2="1171.98" stroke="#000" stroke-width="2" stroke-linecap="butt"/>
<line x1="1017" y1="1171.98" x2="1007.5" y2="1171.98" stroke="#000" stroke-width="2" stroke-linecap="butt"/>
<line x1="137" y1="1159.52" x2="148" y2="1159.52" stroke="#000" stroke-width="2" stroke-linecap="butt"/>
<line x1="1017" y1="1159.52" x2="1007.5" y2="1159.52" stroke="#000" stroke-width="2" stroke-linecap="butt"/>
<line x1="137" y1="1148.98" x2="148" y2="1148.98" stroke="#000" stroke-width="2" stroke-linecap="butt"/>
<line x1="1017" y1="1148.98" x2="1007.5" y2="1148.98" stroke="#000" stroke-width="2" stroke-linecap="butt"/>
<line x1="137" y1="1139.85" x2="148" y2="1139.85" stroke="#000" stroke-width="2" stroke-linecap="butt"/>
<line x1="1017" y1="1139.85" x2="1007.5" y2="1139.85" stroke="#000" stroke-width="2" stroke-linecap="butt"/>
<line x1="137" y1="1131.8" x2="148" y2="1131.8" stroke="#000" stroke-width="2" stroke-linecap="butt"/>
<line x1="1017" y1="1131.8" x2="1007.5" y2="1131.8" stroke="#000" stroke-width="2" stroke-linecap="butt"/>
<line x1="137" y1="1077.22" x2="148" y2="1077.22" stroke="#000" stroke-width="2" stroke-linecap="butt"/>
<line x1="1017" y1="1077.22" x2="1007.5" y2="1077.22" stroke="#000" stroke-width="2" stroke-linecap="butt"/>
<line x1="137" y1="1049.5" x2="148" y2="1049.5" stroke="#000" stroke-width="2" stroke-linecap="butt"/>
<line x1="1017" y1="1049.5" x2="1007.5" y2="1049.5" stroke="#000" stroke-width="2" stroke-linecap="butt"/>
<line x1="137" y1="1029.84" x2="148" y2="1029.84" stroke="#000" stroke-width="2" stroke-linecap="butt"/>
<line x1="1017" y1="1029.84" x2="1007.5" y2="1029.84" stroke="#000" stroke-width="2" stroke-linecap="butt"/>
<line x1="137" y1="1754.2" x2="149.5" y2="1754.2" stroke="#000" stroke-width="4" stroke-linecap="butt"/>
<line x1="1017" y1="1754.2" x2="1004.5" y2="1754.2" stroke="#000" stroke-width="4" stroke-linecap="butt"/>
<line x1="137" y1="1596.8" x2="149.5" y2="1596.8" stroke="#000" stroke-width="4" stroke-linecap="butt"/>
<line x1="1017" y1="1596.8" x2="1004.5" y2="1596.8" stroke="#000" stroke-width="4" stroke-linecap="butt"/>
<line x1="137" y1="1439.4" x2="149.5" y2="1439.4" stroke="#000" stroke-width="4" stroke-linecap="butt"/>
<line x1="1017" y1="1439.4" x2="1004.5" y2="1439.4" stroke="#000" stroke-width="4" stroke-linecap="butt"/>
<line x1="137" y1="1282" x2="149.5" y2="1282" stroke="#000" stroke-width="4" stroke-linecap="butt"/>
<line x1="1017" y1="1282" x2="1004.5" y2="1282" stroke="#000" stroke-width="4" stroke-linecap="butt"/>
<line x1="137" y1="1124.6" x2="149.5" y2="1124.6" stroke="#000" stroke-width="4" stroke-linecap="butt"/>
<line x1="1017" y1="1124.6" x2="1004.5" y2="1124.6" stroke="#000" stroke-width="4" stroke-linecap="butt"/>
<rect x="137" y="1014.2" width="880" height="802.8" fill="none" stroke="#000" stroke-width="4" stroke-linejoin="bevel"/>
<text x="137" y="1857.7" text-anchor="middle" fill="#000"><tspan font-size="36">0.0</tspan></text>
<text x="346.6" y="1857.7" text-anchor="middle" fill="#000"><tspan font-size="36">0.5</tspan></text>
<text x="556.2" y="1857.7" text-anchor="middle" fill="#000"><tspan font-size="36">1.0</tspan></text>
<text x="765.8" y="1857.7" text-anchor="middle" fill="#000"><tspan font-size="36">1.5</tspan></text>
<text x="975.4" y="1857.7" text-anchor="middle" fill="#000"><tspan font-size="36">2.0</tspan></text>
<text x="124.6" y="1766" text-anchor="end" fill="#000"><tspan font-size="36">10</tspan><tspan font-size="21.5" dy="-17.6">13</tspan></text>
<text x="124.6" y="1608.6" text-anchor="end" fill="#000"><tspan font-size="36">10</tspan><tspan font-size="21.5" dy="-17.6">14</tspan></text>
<text x="124.6" y="1451.2" text-anchor="end" fill="#000"><tspan font-size="36">10</tspan><tspan font-size="21.5" dy="-17.6">15</tspan></text>
<text x="124.6" y="1293.8" text-anchor="end" fill="#000"><tspan font-size="36">10</tspan><tspan font-size="21.5" dy="-17.6">16</tspan></text>
<text x="124.6" y="1136.4" text-anchor="end" fill="#000"><tspan font-size="36">10</tspan><tspan font-size="21.5" dy="-17.6">17</tspan></text>
<text x="374.1" y="999.5" text-anchor="start" fill="#000" letter-spacing="0.25"><tspan font-size="32">He + N</tspan><tspan font-size="19.8" dy="10">2</tspan><tspan font-size="32" dy="-10">/O</tspan><tspan font-size="19.8" dy="10">2</tspan><tspan font-size="32" dy="-10"> = 99.8/0.2+ 1 ppm H</tspan><tspan font-size="19.8" dy="10">2</tspan><tspan font-size="32" dy="-10">O, 750 mW</tspan></text>
<text x="0" y="0" transform="translate(43,1414.1) rotate(-90)" text-anchor="middle" fill="#000" letter-spacing="0.76"><tspan font-size="38.5">Density (cm</tspan><tspan font-size="23.5" dy="-20">-3</tspan><tspan font-size="38.5" dy="20">)</tspan></text>
<text x="476.4" y="1896.2" text-anchor="start" fill="#000" letter-spacing="0.35"><tspan font-size="39">Inlet N</tspan><tspan font-size="23.4" dy="11.7">2</tspan><tspan font-size="39" dy="-11.7"> (%)</tspan></text>
<text x="45.7" y="1904" text-anchor="start" fill="#000" letter-spacing="2.6"><tspan font-size="42">b)</tspan></text>
</svg>
</body></html>
